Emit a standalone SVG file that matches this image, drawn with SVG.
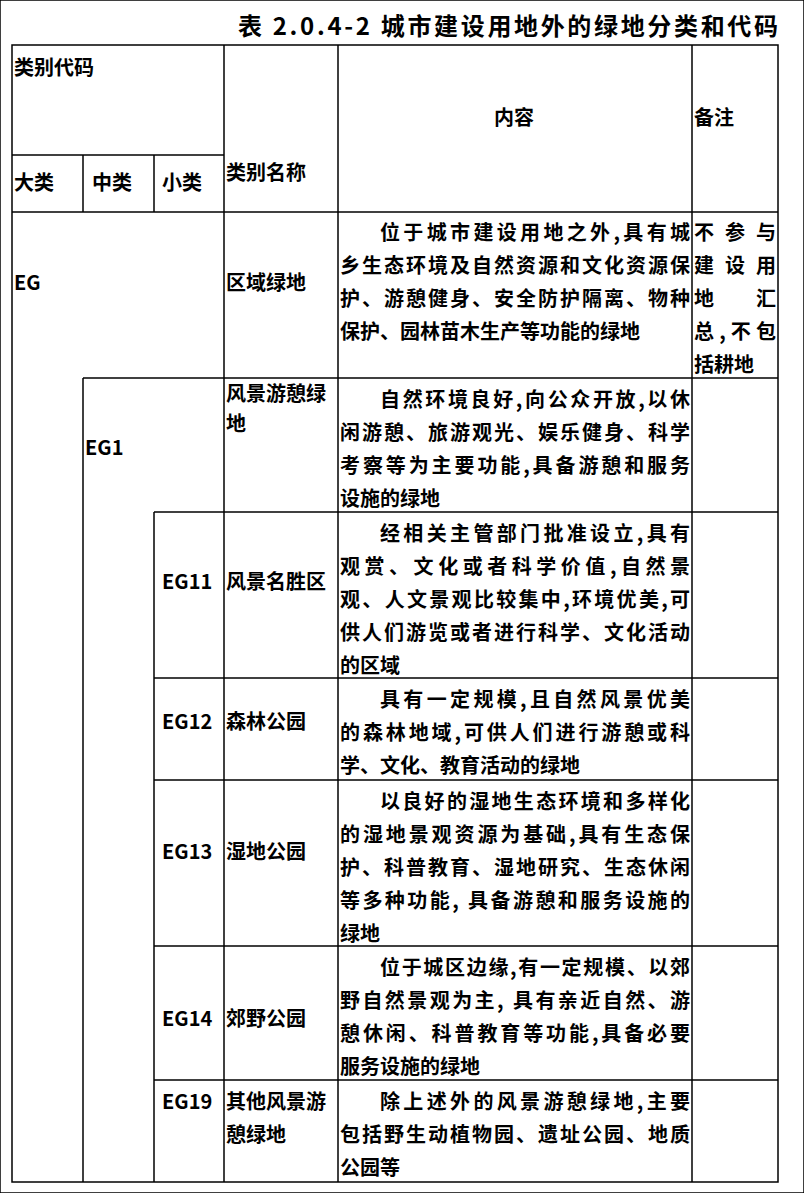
<svg xmlns="http://www.w3.org/2000/svg" width="804" height="1193" viewBox="0 0 804 1193">
<style>
text{font-family:"Noto Sans CJK SC","Liberation Sans",sans-serif;font-size:20px;font-weight:bold;fill:#000}
.t{font-size:24px}
line,rect{stroke:#000;stroke-width:1.5;fill:none}
</style>
<rect width="804" height="1193" fill="#fff" stroke="none"/>
<text class="t" x="238" y="35" textLength="540" lengthAdjust="spacing">表 2.0.4-2 城市建设用地外的绿地分类和代码</text>
<g id="grid">
<rect x="12" y="45" width="766" height="1137"/>
<line x1="224" y1="45" x2="224" y2="1182"/>
<line x1="338" y1="45" x2="338" y2="1182"/>
<line x1="692" y1="45" x2="692" y2="1182"/>
<line x1="12" y1="155" x2="224" y2="155"/>
<line x1="83" y1="155" x2="83" y2="212"/>
<line x1="154" y1="155" x2="154" y2="212"/>
<line x1="12" y1="212" x2="778" y2="212"/>
<line x1="83" y1="378" x2="778" y2="378"/>
<line x1="83" y1="378" x2="83" y2="1182"/>
<line x1="154" y1="512" x2="778" y2="512"/>
<line x1="154" y1="512" x2="154" y2="1182"/>
<line x1="154" y1="678" x2="778" y2="678"/>
<line x1="154" y1="780" x2="778" y2="780"/>
<line x1="154" y1="946" x2="778" y2="946"/>
<line x1="154" y1="1080" x2="778" y2="1080"/>
</g>
<g id="header">
<text x="14" y="75">类别代码</text>
<text x="494" y="125">内容</text>
<text x="694" y="125">备注</text>
<text x="14" y="190">大类</text>
<text x="92" y="190">中类</text>
<text x="162" y="190">小类</text>
<text x="226" y="180">类别名称</text>
</g>
<g id="EG">
<text x="14" y="290">EG</text>
<text x="226" y="290">区域绿地</text>
<text x="380" y="240" textLength="310" lengthAdjust="spacing">位于城市建设用地之外,具有城</text>
<text x="340" y="273" textLength="350" lengthAdjust="spacing">乡生态环境及自然资源和文化资源保</text>
<text x="340" y="306" textLength="350" lengthAdjust="spacing">护、游憩健身、安全防护隔离、物种</text>
<text x="340" y="339">保护、园林苗木生产等功能的绿地</text>
<text x="694" y="240" textLength="82" lengthAdjust="spacing">不参与</text>
<text x="694" y="273" textLength="82" lengthAdjust="spacing">建设用</text>
<text x="694" y="306" textLength="82" lengthAdjust="spacing">地汇</text>
<text x="694" y="339" textLength="82" lengthAdjust="spacing">总,不包</text>
<text x="694" y="372">括耕地</text>
</g>
<g id="EG1">
<text x="85" y="455">EG1</text>
<text x="226" y="401">风景游憩绿</text>
<text x="226" y="431">地</text>
<text x="380" y="407" textLength="310" lengthAdjust="spacing">自然环境良好,向公众开放,以休</text>
<text x="340" y="440" textLength="350" lengthAdjust="spacing">闲游憩、旅游观光、娱乐健身、科学</text>
<text x="340" y="473" textLength="350" lengthAdjust="spacing">考察等为主要功能,具备游憩和服务</text>
<text x="340" y="506">设施的绿地</text>
</g>
<g id="EG11">
<text x="162" y="589">EG11</text>
<text x="226" y="589">风景名胜区</text>
<text x="380" y="541" textLength="310" lengthAdjust="spacing">经相关主管部门批准设立,具有</text>
<text x="340" y="574" textLength="350" lengthAdjust="spacing">观赏、文化或者科学价值,自然景</text>
<text x="340" y="607" textLength="350" lengthAdjust="spacing">观、人文景观比较集中,环境优美,可</text>
<text x="340" y="640" textLength="350" lengthAdjust="spacing">供人们游览或者进行科学、文化活动</text>
<text x="340" y="673">的区域</text>
</g>
<g id="EG12">
<text x="162" y="729">EG12</text>
<text x="226" y="729">森林公园</text>
<text x="380" y="707" textLength="310" lengthAdjust="spacing">具有一定规模,且自然风景优美</text>
<text x="340" y="740" textLength="350" lengthAdjust="spacing">的森林地域,可供人们进行游憩或科</text>
<text x="340" y="773">学、文化、教育活动的绿地</text>
</g>
<g id="EG13">
<text x="162" y="859">EG13</text>
<text x="226" y="859">湿地公园</text>
<text x="380" y="809" textLength="310" lengthAdjust="spacing">以良好的湿地生态环境和多样化</text>
<text x="340" y="842" textLength="350" lengthAdjust="spacing">的湿地景观资源为基础,具有生态保</text>
<text x="340" y="875" textLength="350" lengthAdjust="spacing">护、科普教育、湿地研究、生态休闲</text>
<text x="340" y="908" textLength="350" lengthAdjust="spacing">等多种功能, 具备游憩和服务设施的</text>
<text x="340" y="941">绿地</text>
</g>
<g id="EG14">
<text x="162" y="1026">EG14</text>
<text x="226" y="1026">郊野公园</text>
<text x="380" y="975" textLength="310" lengthAdjust="spacing">位于城区边缘,有一定规模、以郊</text>
<text x="340" y="1008" textLength="350" lengthAdjust="spacing">野自然景观为主, 具有亲近自然、游</text>
<text x="340" y="1041" textLength="350" lengthAdjust="spacing">憩休闲、科普教育等功能,具备必要</text>
<text x="340" y="1074">服务设施的绿地</text>
</g>
<g id="EG19">
<text x="162" y="1109">EG19</text>
<text x="226" y="1109">其他风景游</text>
<text x="226" y="1142">憩绿地</text>
<text x="380" y="1109" textLength="310" lengthAdjust="spacing">除上述外的风景游憩绿地,主要</text>
<text x="340" y="1142" textLength="350" lengthAdjust="spacing">包括野生动植物园、遗址公园、地质</text>
<text x="340" y="1175">公园等</text>
</g>
</svg>
